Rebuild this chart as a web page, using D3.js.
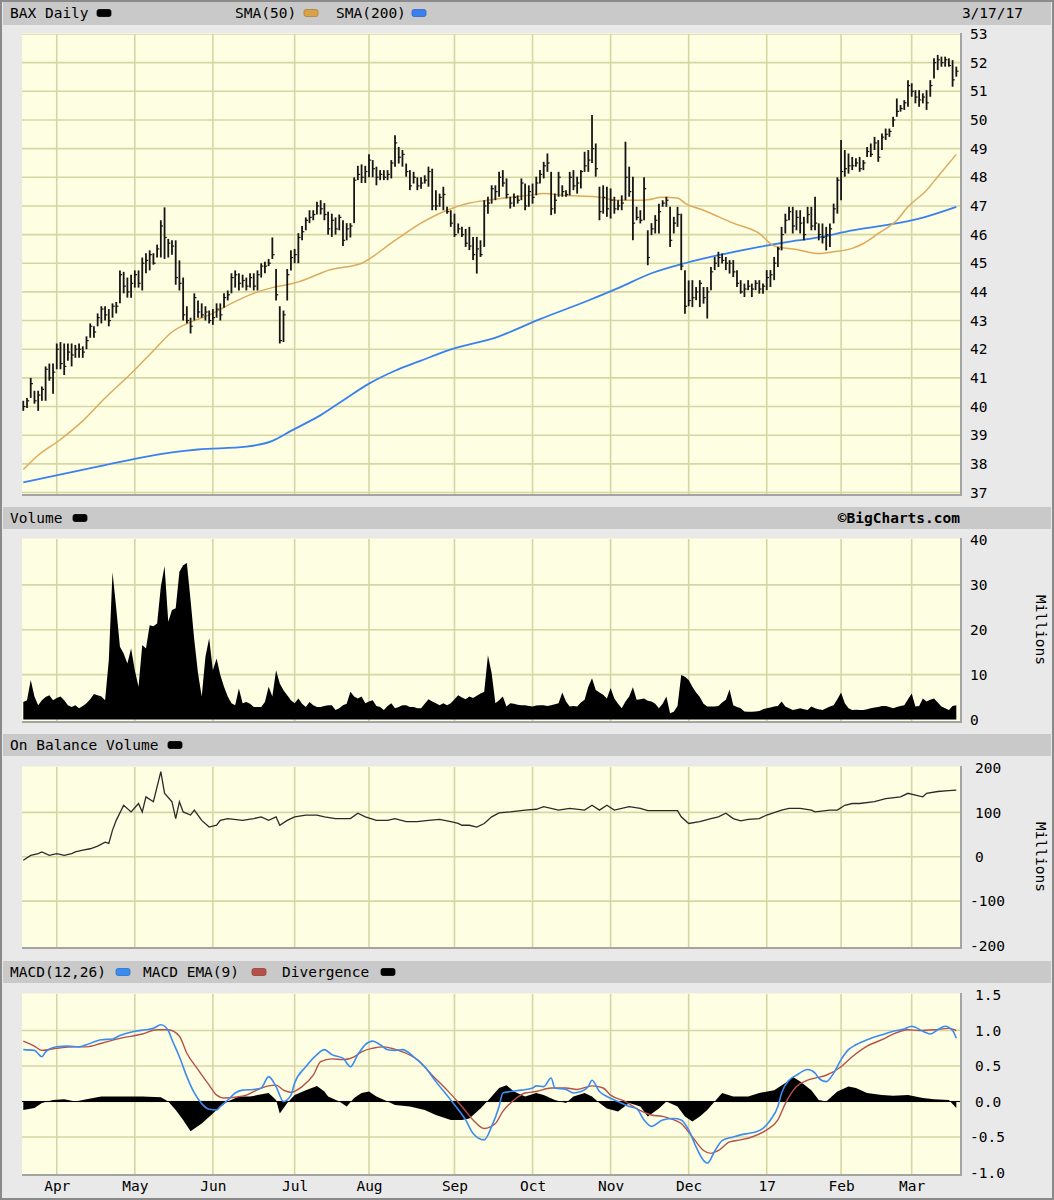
<!DOCTYPE html>
<html><head><meta charset="utf-8">
<script src="https://cdn.jsdelivr.net/npm/d3@7"></script>
<style>
body{margin:0;background:#e9e9e9;}
svg{display:block;}
text{font-family:"DejaVu Sans Mono",monospace;font-size:14.5px;fill:#000;}
</style></head><body>
<svg id="c" width="1054" height="1200"></svg>
<script>
// ---------- DATA ----------
const monthIdx=[9,30,51,73,93,116,137,158,179,200,220,239];
const monthLbl=["Apr","May","Jun","Jul","Aug","Sep","Oct","Nov","Dec","17","Feb","Mar"];
const priceTicks=[37,38,39,40,41,42,43,44,45,46,47,48,49,50,51,52,53];
const volTicks=[0,10,20,30,40];
const obvTicks=[-200,-100,0,100,200];
const macdTicks=[-1.0,-0.5,0.0,0.5,1.0,1.5];

const hi=[40.2,40.3,41.0,40.55,40.55,40.7,41.4,41.5,41.5,42.2,
42.25,42.2,42.2,42.2,42.15,42.2,42.1,42.45,42.9,42.8,
43.25,43.5,43.5,43.4,43.6,43.65,44.75,44.7,44.5,44.6,
44.75,44.75,45.2,45.35,45.45,45.35,45.65,46.5,46.95,45.85,
45.8,45.8,45.1,44.5,43.5,43.1,43.95,43.7,43.6,43.5,
43.35,43.4,43.6,43.6,43.95,44.05,44.65,44.75,44.65,44.6,
44.5,44.65,44.65,44.75,45.0,45.05,45.15,45.9,44.8,43.5,
43.35,44.8,45.45,45.5,46.05,46.3,46.6,46.85,46.85,47.15,
47.2,47.1,46.8,46.73,46.6,46.7,46.5,46.4,46.4,48.0,
48.4,48.45,48.4,48.8,48.6,48.37,48.25,48.25,48.25,48.6,
49.47,49.06,48.95,48.48,48.25,48.19,48.0,48.0,48.07,48.37,
48.3,47.55,47.43,47.67,46.97,46.85,46.73,46.39,46.27,46.2,
46.27,45.92,45.92,45.8,47.2,47.32,47.72,47.72,48.19,48.25,
47.96,47.32,47.43,47.37,47.96,47.78,47.72,47.78,48.02,48.25,
48.54,48.83,48.19,47.43,48.19,47.72,47.55,48.19,48.25,48.02,
48.25,48.89,48.95,50.17,49.18,47.67,47.72,47.67,47.61,47.32,
47.2,47.37,49.24,48.37,48.02,46.97,46.85,48.0,46.15,46.4,
46.68,47.08,47.2,47.32,46.97,46.62,46.97,46.73,44.76,44.4,
44.41,44.17,44.41,44.17,44.17,44.87,45.22,45.4,45.34,45.22,
45.11,45.11,44.76,44.41,44.29,44.41,44.29,44.41,44.41,44.29,
44.76,44.76,45.22,45.57,46.27,46.73,46.97,46.97,46.85,46.85,
46.62,46.97,46.97,47.32,46.39,46.39,46.27,46.39,47.08,48.0,
49.3,48.95,48.83,48.71,48.66,48.71,48.6,49.06,49.18,49.41,
49.3,49.53,49.7,49.7,50.11,50.75,50.52,50.69,51.39,51.28,
51.04,51.04,50.93,51.04,51.39,52.15,52.27,52.21,52.21,52.15,
52.09,51.86];
const lo=[39.85,39.95,40.3,40.1,39.85,40.2,40.2,40.9,40.45,41.3,
41.3,41.1,41.6,41.4,41.7,41.7,41.7,42.0,42.4,42.4,
42.8,42.9,43.0,42.8,43.1,43.25,43.6,43.95,43.8,43.8,
44.15,44.15,44.05,44.65,44.75,44.95,45.2,45.2,45.15,45.2,
45.3,44.25,44.05,43.0,42.9,42.55,43.0,43.1,43.1,43.0,
42.9,42.85,43.1,43.0,43.45,43.7,43.95,44.15,44.05,44.15,
44.05,44.15,44.05,44.05,44.5,44.65,44.9,45.15,43.7,42.2,
42.25,43.7,44.75,45.0,45.0,45.8,46.15,46.4,46.5,46.7,
46.7,46.5,46.0,45.92,46.0,46.15,45.6,45.8,45.9,46.4,
47.9,47.8,47.8,48.0,48.0,47.72,47.9,47.9,47.9,47.96,
48.37,48.48,48.37,48.02,47.55,47.78,47.55,47.6,47.78,47.67,
46.85,46.85,46.97,46.85,46.73,46.27,45.92,46.04,45.92,45.57,
45.46,45.11,44.64,45.22,45.57,46.73,47.08,47.2,47.32,47.67,
47.26,46.91,46.97,47.08,47.2,46.85,46.97,47.08,47.37,47.78,
47.96,48.19,46.68,46.73,47.32,47.32,47.32,47.37,47.55,47.43,
47.61,48.19,48.19,48.5,48.02,46.5,46.73,46.62,46.56,46.73,
46.85,46.85,47.2,47.32,45.8,46.5,46.39,46.5,44.93,45.98,
46.04,46.04,46.97,46.97,45.57,46.04,46.27,44.76,43.24,43.5,
43.47,43.71,43.47,43.59,43.07,44.06,44.76,44.87,44.99,44.76,
44.64,44.52,44.17,43.94,43.82,44.06,43.82,44.06,43.94,43.94,
44.06,44.17,44.41,44.87,45.45,46.04,46.5,46.04,46.15,46.04,
45.8,46.39,46.15,46.15,45.8,45.69,45.45,45.57,46.39,46.73,
47.2,48.02,48.13,48.25,48.37,48.19,48.25,48.71,48.71,48.95,
48.54,48.95,49.3,49.41,49.76,50.11,50.29,50.35,50.46,50.81,
50.58,50.46,50.58,50.35,50.81,51.45,51.74,51.86,51.86,51.86,
51.16,51.51];
const cl=[40.0,40.2,40.8,40.2,40.4,40.6,41.3,41.0,41.2,42.0,
41.5,41.4,41.9,41.8,42.0,42.0,41.9,42.3,42.8,42.6,
43.1,43.4,43.2,43.0,43.5,43.5,44.6,44.2,44.0,44.3,
44.6,44.3,45.0,45.1,45.3,45.0,45.5,46.3,45.9,45.7,
45.6,44.5,44.3,43.2,43.0,42.8,43.8,43.3,43.2,43.3,
43.0,43.1,43.4,43.2,43.8,43.9,44.5,44.6,44.3,44.4,
44.2,44.5,44.2,44.6,44.9,44.9,45.0,45.3,43.9,42.3,
43.2,44.6,45.2,45.3,45.9,46.1,46.5,46.6,46.7,47.0,
46.9,46.7,46.2,46.5,46.2,46.6,45.8,46.2,46.3,47.9,
48.1,48.0,48.2,48.6,48.3,48.0,48.1,48.0,48.1,48.5,
49.2,48.7,48.8,48.2,47.7,48.0,47.7,47.8,47.9,48.2,
47.0,47.0,47.3,47.4,46.8,46.4,46.0,46.2,46.0,45.7,
45.6,45.3,45.5,45.3,47.0,47.1,47.6,47.5,48.0,47.8,
47.4,47.1,47.3,47.2,47.8,47.0,47.5,47.3,47.8,48.1,
48.4,48.5,46.9,47.2,48.0,47.5,47.4,48.0,47.7,47.8,
48.2,48.4,48.6,49.0,48.3,46.8,47.3,46.9,47.2,46.9,
47.0,47.1,48.0,47.5,46.4,46.6,46.5,47.6,45.2,46.2,
46.5,46.8,47.1,47.2,45.8,46.4,46.7,44.9,43.5,43.7,
43.8,44.0,44.3,43.8,44.0,44.7,45.0,45.2,45.1,45.0,
45.0,44.7,44.3,44.0,44.1,44.2,44.1,44.3,44.1,44.2,
44.5,44.6,45.0,45.5,46.0,46.5,46.8,46.3,46.6,46.4,
46.0,46.7,46.3,46.4,46.0,45.9,46.0,46.2,46.9,47.9,
48.2,48.3,48.4,48.4,48.5,48.3,48.5,48.9,48.8,49.2,
48.7,49.4,49.5,49.6,50.0,50.3,50.4,50.6,51.2,51.0,
50.8,50.7,50.8,50.6,51.2,52.0,52.1,52.0,52.1,51.9,
51.4,51.7];
// [day index, value]
const sma50=[[0,37.8],[4,38.3],[10,38.85],[16,39.5],[22,40.3],[29,41.15],[35,41.95],[40,42.6],[46,43.0],[51,43.25],[56,43.6],[62,43.95],[67,44.15],[71,44.25],[74,44.35],[80,44.65],[82,44.75],[91,45.0],[100,45.8],[107,46.4],[114,46.85],[120,47.1],[125,47.2],[131,47.3],[136,47.37],[140,47.43],[145,47.37],[154,47.32],[160,47.2],[167,47.2],[172,47.3],[176,47.28],[178,47.1],[183,46.85],[191,46.4],[198,46.04],[202,45.6],[208,45.48],[214,45.34],[218,45.4],[223,45.52],[226,45.69],[230,46.04],[235,46.5],[238,46.97],[243,47.55],[246,48.02],[251,48.8]];
const sma200=[[0,37.35],[20,37.9],[40,38.4],[47,38.5],[60,38.6],[67,38.8],[72,39.15],[80,39.7],[87,40.3],[93,40.8],[100,41.25],[107,41.6],[114,41.95],[128,42.45],[139,43.05],[152,43.7],[160,44.13],[169,44.65],[178,45.0],[187,45.28],[196,45.52],[205,45.73],[214,45.9],[223,46.15],[232,46.33],[241,46.56],[251,46.97]];
const vol=[3.9,4.3,8.8,5.1,3.2,4.3,5.0,5.4,4.3,4.8,
5.1,4.3,3.2,2.8,3.2,2.5,3.0,3.6,4.5,5.7,
5.4,5.1,4.3,13.2,32.8,24.8,16.2,14.7,12.5,15.8,
11.0,7.3,16.6,15.8,21.0,20.8,21.4,29.6,34.2,21.8,
24.4,24.8,32.9,34.4,34.9,26.6,17.7,10.3,5.1,14.0,
18.1,11.0,13.6,9.9,7.3,5.1,3.6,3.2,6.9,3.6,
3.9,3.5,2.8,2.8,2.8,3.9,7.3,5.1,11.0,8.0,
6.5,5.4,4.3,3.6,4.7,3.5,2.8,3.9,3.2,2.8,
2.8,3.0,3.2,3.2,2.1,2.5,3.2,3.5,6.2,5.1,
4.7,5.1,3.6,4.0,4.3,3.0,2.8,2.1,3.0,3.6,
2.5,2.8,3.2,3.2,2.8,2.8,2.5,2.5,3.5,4.5,
4.0,3.6,3.2,3.6,3.2,3.6,4.5,5.4,4.9,4.5,
5.1,4.8,5.3,5.8,6.2,14.3,10.3,3.6,4.3,5.1,
2.9,3.6,3.5,3.3,3.2,3.2,3.0,2.9,3.1,3.2,
3.2,3.0,3.2,3.4,3.6,6.0,4.0,2.9,3.0,2.9,
3.8,4.4,7.3,9.2,6.6,6.0,5.5,4.7,7.0,4.7,
3.5,2.5,4.0,5.1,7.2,4.4,4.5,4.7,4.2,4.0,
3.5,2.5,3.5,5.1,1.4,1.7,3.0,9.9,9.5,8.8,
7.3,6.0,5.0,3.5,2.9,2.9,2.9,3.0,3.8,4.4,
6.7,3.2,2.8,2.5,1.8,1.7,1.7,1.8,1.9,2.3,
2.5,2.7,2.9,3.0,4.0,2.9,2.5,2.1,2.3,2.5,
2.3,2.1,2.9,2.5,2.3,2.1,2.5,2.9,3.2,4.5,
6.0,3.6,2.5,2.1,2.2,2.1,2.1,2.3,2.5,2.7,
2.8,3.0,3.0,2.8,2.5,2.8,3.0,3.2,4.5,5.8,
2.9,3.0,4.7,4.0,4.4,4.7,3.8,2.9,2.5,2.1,
3.0,3.2];
const obv=[[0,-8],[2,3],[4,7],[5,11],[7,3],[9,7],[11,3],[13,7],[14,11],[16,15],[18,18],[20,24],[22,33],[23,30],[24,60],[25,82],[27,116],[29,101],[31,120],[32,101],[33,135],[35,124],[37,192],[38,143],[40,124],[41,86],[42,124],[43,101],[45,94],[46,105],[48,82],[50,67],[52,71],[53,82],[55,86],[59,82],[62,86],[64,90],[66,82],[68,90],[69,71],[71,82],[73,90],[76,94],[79,94],[81,90],[84,86],[88,86],[90,98],[92,90],[95,82],[98,82],[100,86],[103,79],[106,79],[109,82],[112,84],[115,79],[117,75],[118,71],[120,71],[122,67],[124,75],[126,90],[128,99],[131,101],[135,105],[138,107],[140,113],[144,105],[147,109],[151,105],[153,116],[155,105],[157,116],[159,105],[163,113],[166,109],[168,104],[172,104],[176,104],[177,90],[179,75],[182,79],[185,86],[187,90],[189,98],[191,86],[193,81],[195,84],[198,86],[200,94],[204,105],[206,109],[209,109],[212,105],[213,101],[217,105],[219,105],[221,116],[223,120],[225,120],[229,124],[232,131],[236,135],[238,143],[240,139],[242,135],[243,143],[246,147],[249,149],[251,150]];
const macd=[[0,0.73],[3,0.72],[5,0.63],[6,0.70],[9,0.77],[12,0.78],[15,0.77],[17,0.80],[21,0.87],[24,0.88],[26,0.93],[30,0.99],[33,1.01],[35,1.03],[37,1.08],[39,1.0],[40,0.87],[42,0.63],[44,0.35],[46,0.12],[48,-0.03],[50,-0.11],[52,-0.12],[53,-0.07],[55,0.02],[57,0.12],[59,0.16],[62,0.17],[64,0.19],[66,0.35],[68,0.21],[70,0.0],[72,0.09],[73,0.26],[76,0.49],[79,0.66],[81,0.73],[83,0.66],[86,0.61],[88,0.49],[90,0.66],[92,0.80],[94,0.85],[96,0.80],[98,0.73],[100,0.72],[102,0.73],[105,0.63],[108,0.49],[111,0.28],[115,0.02],[119,-0.26],[121,-0.45],[124,-0.54],[126,-0.35],[128,-0.07],[129,0.12],[131,0.14],[134,0.16],[137,0.19],[138,0.22],[140,0.21],[142,0.33],[143,0.19],[146,0.17],[148,0.12],[150,0.14],[152,0.21],[153,0.30],[155,0.14],[157,0.07],[160,0.0],[163,-0.07],[165,-0.10],[167,-0.26],[169,-0.35],[172,-0.26],[175,-0.24],[177,-0.26],[179,-0.40],[181,-0.64],[183,-0.83],[184,-0.87],[186,-0.70],[188,-0.55],[191,-0.50],[193,-0.47],[195,-0.45],[197,-0.43],[199,-0.38],[201,-0.26],[203,-0.07],[204,0.12],[206,0.30],[208,0.37],[211,0.45],[213,0.40],[214,0.33],[216,0.28],[218,0.40],[220,0.59],[222,0.73],[224,0.80],[227,0.87],[231,0.94],[234,0.99],[237,1.02],[239,1.06],[242,0.99],[244,0.95],[246,1.01],[248,1.06],[250,1.0],[251,0.89]];
const signal=[[0,0.85],[3,0.78],[5,0.72],[9,0.75],[14,0.77],[17,0.77],[21,0.82],[26,0.89],[32,0.95],[36,1.01],[39,1.01],[42,0.92],[44,0.68],[47,0.45],[50,0.23],[52,0.09],[54,0.05],[57,0.06],[60,0.09],[62,0.14],[66,0.22],[68,0.23],[70,0.16],[72,0.13],[75,0.21],[78,0.37],[80,0.56],[83,0.60],[86,0.59],[89,0.63],[91,0.70],[94,0.75],[97,0.77],[99,0.75],[102,0.70],[106,0.59],[110,0.37],[114,0.16],[118,-0.07],[121,-0.26],[124,-0.38],[127,-0.31],[129,-0.14],[132,0.02],[135,0.12],[138,0.14],[142,0.19],[146,0.19],[149,0.17],[153,0.22],[156,0.19],[158,0.09],[162,0.0],[165,-0.10],[169,-0.19],[172,-0.21],[174,-0.24],[177,-0.31],[180,-0.50],[183,-0.69],[185,-0.73],[187,-0.69],[190,-0.57],[193,-0.54],[196,-0.50],[200,-0.40],[203,-0.26],[205,-0.03],[208,0.21],[211,0.30],[213,0.33],[216,0.37],[220,0.49],[223,0.63],[227,0.78],[231,0.87],[234,0.95],[238,1.01],[241,1.0],[245,1.01],[249,1.03],[251,1.0]];
const diverg=[[0,-0.12],[3,-0.09],[5,-0.02],[8,0.02],[11,0.03],[14,0.0],[17,0.03],[21,0.07],[26,0.07],[32,0.07],[37,0.06],[39,0.0],[41,-0.12],[43,-0.26],[45,-0.42],[48,-0.31],[51,-0.17],[53,-0.07],[55,0.0],[58,0.07],[61,0.07],[63,0.09],[66,0.12],[68,0.02],[69,-0.17],[71,-0.02],[73,0.09],[76,0.16],[79,0.22],[81,0.14],[82,0.07],[85,0.0],[87,-0.07],[89,0.05],[91,0.12],[93,0.14],[95,0.07],[98,0.0],[100,-0.05],[104,-0.07],[108,-0.12],[111,-0.19],[115,-0.26],[118,-0.26],[120,-0.24],[123,-0.10],[126,0.07],[128,0.19],[130,0.23],[132,0.14],[135,0.07],[138,0.12],[140,0.09],[143,0.02],[146,-0.02],[148,0.07],[151,0.12],[153,0.07],[155,-0.02],[157,-0.10],[160,-0.14],[163,-0.02],[166,-0.07],[168,-0.21],[171,-0.10],[173,0.0],[176,-0.07],[178,-0.21],[180,-0.28],[182,-0.21],[184,-0.12],[186,0.0],[188,0.12],[191,0.07],[195,0.07],[198,0.12],[202,0.16],[205,0.26],[207,0.35],[209,0.28],[212,0.16],[214,0.02],[216,0.0],[219,0.14],[222,0.21],[224,0.19],[227,0.12],[231,0.09],[234,0.08],[238,0.09],[242,0.05],[245,0.03],[249,0.02],[251,-0.09]];

// ---------- DRAW ----------
const svg=d3.select("#c");
const BG="#e9e9e9", PLOT="#fefee2", GRID="#d6d6a4", HEAD="#c9c9c9";
svg.append("rect").attr("width",1054).attr("height",1200).attr("fill",BG);

const X0=22, X1=960;
const x=d3.scaleLinear().domain([0,251]).range([23.3,956.3]);

function header(y0,h){
  svg.append("rect").attr("x",3).attr("y",y0).attr("width",1048).attr("height",h).attr("fill",HEAD);
}
function swatch(xp,yc,col){
  svg.append("rect").attr("x",xp).attr("y",yc-3.5).attr("width",14).attr("height",7)
    .attr("rx",2).attr("fill",col).attr("stroke",d3.color(col).darker(0.6)).attr("stroke-width",0.8);
}
function label(xp,yb,t,anchor){
  return svg.append("text").attr("x",xp).attr("y",yb).attr("text-anchor",anchor||"start").text(t);
}
function panel(top,bot,y,grid){
  const g=svg.append("g");
  g.append("rect").attr("x",X0).attr("y",top).attr("width",X1-X0).attr("height",bot-top).attr("fill",PLOT);
  g.selectAll(".hg").data(grid).join("line").attr("x1",X0).attr("x2",X1)
    .attr("y1",d=>y(d)).attr("y2",d=>y(d)).attr("stroke",GRID).attr("stroke-width",1.6);
  g.selectAll(".vg").data(monthIdx).join("line").attr("x1",d=>x(d)).attr("x2",d=>x(d))
    .attr("y1",top).attr("y2",bot).attr("stroke",GRID).attr("stroke-width",1.6);
  // frame
  g.append("line").attr("x1",X0).attr("x2",X1).attr("y1",top+0.5).attr("y2",top+0.5).attr("stroke","#f4f4e0").attr("stroke-width",1);
  g.append("line").attr("x1",X1+1).attr("x2",X1+1).attr("y1",top).attr("y2",bot+1).attr("stroke","#a4a4a4").attr("stroke-width",2);
  g.append("line").attr("x1",X0).attr("x2",X1+2).attr("y1",bot+1).attr("y2",bot+1).attr("stroke","#a4a4a4").attr("stroke-width",2);
  return g;
}
function rightAxis(y,ticks,fmt,shiftPos){
  const a=svg.append("g").attr("transform",`translate(${X1},0)`)
    .call(d3.axisRight(y).tickValues(ticks).tickSize(0).tickPadding(10).tickFormat(fmt));
  a.select(".domain").remove();
  a.selectAll("text").attr("font-family","DejaVu Sans Mono,monospace").attr("font-size","14.5px")
    .attr("fill","#000").attr("dx",d=>(shiftPos&&d>=0)?5:0);
  return a;
}
function millions(yc){
  svg.append("text").attr("transform",`translate(1036,${yc}) rotate(90)`).attr("text-anchor","middle").text("Millions");
}

// ---- Header (price) ----
header(2,23);
label(10,18,"BAX Daily"); swatch(97,13,"#000");
label(235,18,"SMA(50)"); swatch(304,13,"#d9a24a");
label(336,18,"SMA(200)"); swatch(412,13,"#3a80ee");
label(1023,18,"3/17/17","end");

// ---- Price panel ----
const yP=d3.scaleLinear().domain([37,53]).range([492.5,34]);
panel(33,494,yP,priceTicks);
const lineP=d3.line().x(d=>x(d[0])).y(d=>yP(d[1])).curve(d3.curveMonotoneX);
svg.append("path").attr("d",lineP(sma200)).attr("fill","none").attr("stroke","#3a80ee").attr("stroke-width",1.8);
svg.append("path").attr("d",lineP(sma50)).attr("fill","none").attr("stroke","#dcaa5c").attr("stroke-width",1.5);
const bars=svg.append("g");
const days=d3.range(hi.length);
bars.selectAll(".hl").data(days).join("line")
  .attr("x1",i=>x(i)).attr("x2",i=>x(i)).attr("y1",i=>yP(hi[i])).attr("y2",i=>yP(lo[i]))
  .attr("stroke","#151515").attr("stroke-width",1.8);
bars.selectAll(".cl").data(days).join("line")
  .attr("x1",i=>x(i)).attr("x2",i=>x(i)+2.2).attr("y1",i=>yP(cl[i])).attr("y2",i=>yP(cl[i]))
  .attr("stroke","#151515").attr("stroke-width",1.2);
rightAxis(yP,priceTicks,d=>String(d),false);

// ---- Volume ----
header(507,22);
label(10,523,"Volume"); swatch(73,518,"#000");
svg.append("text").attr("x",960).attr("y",523).attr("text-anchor","end")
  .attr("font-family","DejaVu Sans,sans-serif").attr("font-weight","bold").attr("font-size","14px")
  .attr("fill","#8c8c8c").text("©BigCharts.com");
const yV=d3.scaleLinear().domain([0,40]).range([719.5,540]);
panel(538,721,yV,[10,20,30]);
svg.append("path").datum(vol)
  .attr("d",d3.area().x((d,i)=>x(i)).y0(yV(0)).y1(d=>yV(d)))
  .attr("fill","#000");
rightAxis(yV,volTicks,d=>String(d),false);
millions(630);

// ---- OBV ----
header(734,22);
label(10,750,"On Balance Volume"); swatch(168,745,"#000");
const yO=d3.scaleLinear().domain([-200,200]).range([945.5,768]);
panel(766,947,yO,[-100,0,100]);
svg.append("path").attr("d",d3.line().x(d=>x(d[0])).y(d=>yO(d[1]))(obv))
  .attr("fill","none").attr("stroke","#2a2a2a").attr("stroke-width",1.3);
rightAxis(yO,obvTicks,d=>(d<0?"-":"")+Math.abs(d),true);
millions(857);

// ---- MACD ----
header(961,22);
label(10,977,"MACD(12,26)"); swatch(116,972,"#3a8cf0");
label(143,977,"MACD EMA(9)"); swatch(252,972,"#b5504a");
label(282,977,"Divergence"); swatch(381,972,"#000");
const yM=d3.scaleLinear().domain([-1,1.5]).range([1172.5,995]);
panel(993,1174,yM,[-0.5,0,0.5,1.0]);
svg.append("path").attr("d",d3.area().x(d=>x(d[0])).y0(yM(0)).y1(d=>yM(d[1]))(diverg)).attr("fill","#000");
svg.append("line").attr("x1",X0).attr("x2",X1).attr("y1",yM(0)).attr("y2",yM(0)).attr("stroke","#000").attr("stroke-width",1.2);
const lineM=d3.line().x(d=>x(d[0])).y(d=>yM(d[1])).curve(d3.curveMonotoneX);
svg.append("path").attr("d",lineM(signal)).attr("fill","none").attr("stroke","#b5504a").attr("stroke-width",1.4);
svg.append("path").attr("d",lineM(macd)).attr("fill","none").attr("stroke","#3a8cf0").attr("stroke-width",1.6);
rightAxis(yM,macdTicks,d=>(d<0?"-":"")+Math.abs(d).toFixed(1),true);

// ---- Month axis ----
const ax=svg.append("g").attr("transform","translate(0,1175)")
  .call(d3.axisBottom(x).tickValues(monthIdx).tickSize(0).tickPadding(6).tickFormat((d,i)=>monthLbl[i]));
ax.select(".domain").remove();
ax.selectAll("text").attr("font-family","DejaVu Sans Mono,monospace").attr("font-size","14.5px").attr("fill","#000");

// outer frame
svg.append("rect").attr("x",1).attr("y",1).attr("width",1052).attr("height",1198)
  .attr("fill","none").attr("stroke","#8a8a8a").attr("stroke-width",2);
</script>
</body></html>
